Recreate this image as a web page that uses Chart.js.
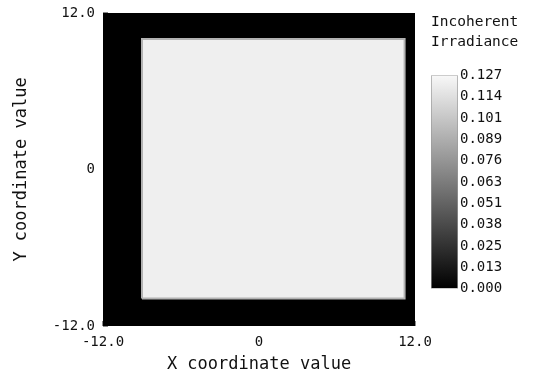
<!DOCTYPE html>
<html>
<head>
<meta charset="utf-8">
<script src="https://cdn.jsdelivr.net/npm/chart.js@4.4.1/dist/chart.umd.min.js"></script>
<style>
  body { margin: 0; background: #fff; }
  #wrap { position: relative; width: 543px; height: 383px; }
  #main { position: absolute; left: 0; top: 0; }
  #bar { position: absolute; left: 420px; top: 65px; }
  #barTitle { position: absolute; left: 431px; top: 11px; font: 14.5px "DejaVu Sans Mono", monospace; line-height: 20px; color: #111; white-space: pre; }
</style>
</head>
<body>
<div id="wrap">
  <canvas id="main" width="543" height="383"></canvas>
  <div id="barTitle">Incoherent
Irradiance</div>
  <canvas id="bar" width="123" height="234"></canvas>
</div>
<script>
// axis ticks (minor marks every 2.4, labels only at the ends and centre)
var axisTicks = [-12, -9.6, -7.2, -4.8, -2.4, 0, 2.4, 4.8, 7.2, 9.6, 12];
var axisLabels = ["-12.0", "", "", "", "", "0", "", "", "", "", "12.0"];

// regions of the irradiance map (corners x / y) and their levels
var fieldX = [-12, 12, 12, -12];
var fieldY = [-12, -12, 12, 12];
var fieldLevel = 0;
var spotX = [-9.0, 11.2, 11.2, -9.0];
var spotY = [-9.9, -9.9, 10.0, 10.0];
var spotLevel = 0.119;

// colour bar
var colorMax = 0.1268;
var colorLabels = ["0.000", "0.013", "0.025", "0.038", "0.051", "0.063", "0.076", "0.089", "0.101", "0.114", "0.127"];

var monoFont = "'DejaVu Sans Mono', monospace";

function grayFor(level) {
	var g = Math.round(level / colorMax * 255);
	if (g > 255) g = 255;
	return "rgb(" + g + "," + g + "," + g + ")";
}

function toShape(xs, ys) {
	var pts = [];
	for (var i = 0; i < xs.length; i++) {
		pts.push({ x: xs[i], y: ys[i] });
	}
	pts.push({ x: xs[0], y: ys[0] });
	return pts;
}

function setTicks(scale) {
	scale.ticks = axisTicks.map(function(v) { return { value: v }; });
}

new Chart(document.getElementById("main").getContext("2d"), {
	type: "scatter",
	data: {
		datasets: [
			{
				data: toShape(spotX, spotY),
				showLine: true,
				fill: "shape",
				backgroundColor: grayFor(spotLevel),
				borderColor: "#b2b2b2",
				borderWidth: 2,
				pointRadius: 0,
				tension: 0,
			},
			{
				data: toShape(fieldX, fieldY),
				showLine: true,
				fill: "shape",
				backgroundColor: grayFor(fieldLevel),
				borderWidth: 0,
				pointRadius: 0,
				tension: 0,
			},
		],
	},
	options: {
		responsive: false,
		animation: false,
		events: [],
		layout: { padding: { left: 0, right: 128, top: 0, bottom: 0 } },
		plugins: {
			legend: { display: false },
			tooltip: { enabled: false },
		},
		scales: {
			x: {
				type: "linear",
				min: -12,
				max: 12,
				z: 1,
				afterBuildTicks: setTicks,
				afterFit: function(s) { s.height = 57; },
				border: { display: false },
				grid: { drawOnChartArea: false, tickLength: -5, color: "#8a8a8a", lineWidth: 2 },
				ticks: {
					autoSkip: false,
					maxRotation: 0,
					padding: 13,
					color: "#111",
					font: { family: monoFont, size: 14 },
					callback: function(v, i) { return axisLabels[i]; },
				},
				title: {
					display: true,
					text: "X coordinate value",
					color: "#111",
					font: { family: monoFont, size: 17 },
					padding: { top: 0, bottom: 8 },
				},
			},
			y: {
				type: "linear",
				min: -12,
				max: 12,
				z: 1,
				afterBuildTicks: setTicks,
				afterFit: function(s) {
					s.width = 103;
					s.paddingTop = 13;
					s.paddingBottom = 0;
				},
				border: { display: false },
				grid: { drawOnChartArea: false, tickLength: -5, color: "#8a8a8a", lineWidth: 2 },
				ticks: {
					autoSkip: false,
					padding: 13,
					color: "#111",
					font: { family: monoFont, size: 14 },
					callback: function(v, i) { return axisLabels[i]; },
				},
				title: {
					display: true,
					text: "Y coordinate value",
					color: "#111",
					font: { family: monoFont, size: 17 },
					padding: { top: 11, bottom: 0 },
				},
			},
		},
	},
});

new Chart(document.getElementById("bar").getContext("2d"), {
	type: "bar",
	data: {
		labels: ["irradiance"],
		datasets: [
			{
				data: [[0, colorMax]],
				barPercentage: 1,
				categoryPercentage: 1,
				borderWidth: 1,
				borderColor: "#9a9a9a",
				borderSkipped: false,
				backgroundColor: function(ctx) {
					var area = ctx.chart.chartArea;
					if (!area) return "#888";
					var g = ctx.chart.ctx.createLinearGradient(0, area.bottom, 0, area.top);
					g.addColorStop(0, grayFor(0));
					g.addColorStop(1, "#f8f8f8");
					return g;
				},
			},
		],
	},
	options: {
		responsive: false,
		animation: false,
		events: [],
		layout: { padding: { left: 11, right: 0, top: 9, bottom: 9 } },
		plugins: {
			legend: { display: false },
			tooltip: { enabled: false },
		},
		scales: {
			x: { display: false },
			y: {
				position: "right",
				min: 0,
				max: colorMax,
				afterBuildTicks: function(s) {
					s.ticks = colorLabels.map(function(l, i) {
						return { value: colorMax * i / (colorLabels.length - 1) };
					});
				},
				afterFit: function(s) { s.width = 85; },
				border: { display: false },
				grid: { display: false, drawTicks: false },
				ticks: {
					autoSkip: false,
					padding: 2,
					color: "#111",
					font: { family: monoFont, size: 14 },
					callback: function(v, i) { return colorLabels[i]; },
				},
			},
		},
	},
});
</script>
</body>
</html>
